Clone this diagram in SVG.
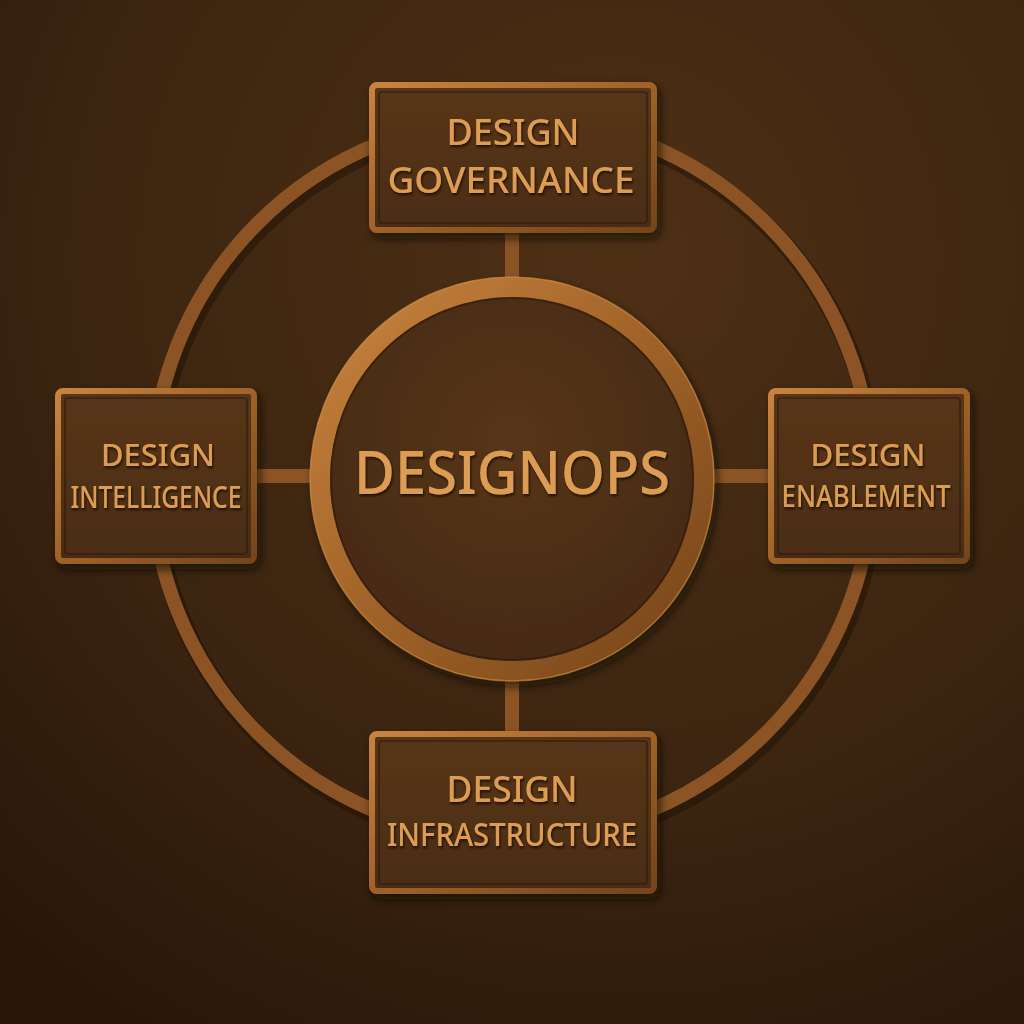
<svg xmlns="http://www.w3.org/2000/svg" width="1024" height="1024" viewBox="0 0 1024 1024">
  <defs>
    <radialGradient id="bg" cx="0.6" cy="0.25" r="0.9">
      <stop offset="0" stop-color="#4e3015"/>
      <stop offset="0.6" stop-color="#3b2410"/>
      <stop offset="1" stop-color="#271608"/>
    </radialGradient>
    <linearGradient id="metal" x1="0" y1="0" x2="1" y2="1">
      <stop offset="0" stop-color="#c8843e"/>
      <stop offset="0.5" stop-color="#a06228"/>
      <stop offset="1" stop-color="#74441a"/>
    </linearGradient>
    <linearGradient id="plate" x1="0" y1="0" x2="0" y2="1">
      <stop offset="0" stop-color="#58361a"/>
      <stop offset="1" stop-color="#4a2c14"/>
    </linearGradient>
    <radialGradient id="disk" cx="0.5" cy="0.4" r="0.6">
      <stop offset="0" stop-color="#56351a"/>
      <stop offset="1" stop-color="#462a14"/>
    </radialGradient>
    <filter id="shadow" x="-20%" y="-20%" width="140%" height="140%">
      <feDropShadow dx="3" dy="5" stdDeviation="5" flood-color="#0e0702" flood-opacity="0.75"/>
    </filter>
    <filter id="tshadow" x="-10%" y="-30%" width="120%" height="160%">
      <feDropShadow dx="1" dy="2" stdDeviation="1.2" flood-color="#160b03" flood-opacity="0.9"/>
    </filter>
  </defs>
  <style>
    .lbl { font-family: "Noto Sans", "Open Sans", sans-serif; font-weight: 500; fill: #dc9c52; text-anchor: middle; filter: url(#tshadow); }
    .box { fill: url(#plate); stroke: url(#metal); stroke-width: 6; filter: url(#shadow); }
    .inner { fill: none; stroke: #2e1a0a; stroke-width: 1.5; opacity: 0.7; }
    .conn { stroke: #8c5424; stroke-width: 14; fill: none; }
  </style>

  <rect width="1024" height="1024" fill="url(#bg)"/>

  <g id="connectors">
    <circle cx="512" cy="478" r="360" fill="none" stroke="#1e1106" stroke-width="18" opacity="0.5" transform="translate(3,5)"/>
    <circle cx="512" cy="478" r="360" class="conn" stroke="url(#metal)"/>
    <line x1="512" y1="232" x2="512" y2="280" class="conn"/>
    <line x1="512" y1="678" x2="512" y2="732" class="conn"/>
    <line x1="256" y1="476" x2="312" y2="476" class="conn"/>
    <line x1="712" y1="476" x2="769" y2="476" class="conn"/>
  </g>

  <g id="center">
    <circle cx="512" cy="479" r="192" fill="url(#disk)" stroke="url(#metal)" stroke-width="20" filter="url(#shadow)"/>
    <circle cx="512" cy="479" r="181" fill="none" stroke="#2e1a0a" stroke-width="2" opacity="0.6"/>
    <circle cx="512" cy="479" r="202" fill="none" stroke="#d8954a" stroke-width="1.5" opacity="0.6"/>
    <text class="lbl" x="512" y="494" font-size="60" textLength="316" lengthAdjust="spacingAndGlyphs">DESIGNOPS</text>
  </g>

  <g id="governance">
    <rect class="box" x="372" y="85" width="282" height="145" rx="5"/>
    <rect class="inner" x="379" y="92" width="268" height="131" rx="3"/>
    <text class="lbl" x="513" y="145" font-size="36" textLength="133" lengthAdjust="spacingAndGlyphs">DESIGN</text>
    <text class="lbl" x="511" y="193" font-size="36" textLength="247" lengthAdjust="spacingAndGlyphs">GOVERNANCE</text>
  </g>

  <g id="intelligence">
    <rect class="box" x="58" y="391" width="196" height="170" rx="5"/>
    <rect class="inner" x="65" y="398" width="182" height="156" rx="3"/>
    <text class="lbl" x="158" y="466" font-size="31" textLength="114" lengthAdjust="spacingAndGlyphs">DESIGN</text>
    <text class="lbl" x="156" y="508" font-size="30" textLength="171" lengthAdjust="spacingAndGlyphs">INTELLIGENCE</text>
  </g>

  <g id="enablement">
    <rect class="box" x="771" y="391" width="196" height="170" rx="5"/>
    <rect class="inner" x="778" y="398" width="182" height="156" rx="3"/>
    <text class="lbl" x="868" y="466" font-size="31" textLength="115" lengthAdjust="spacingAndGlyphs">DESIGN</text>
    <text class="lbl" x="866" y="507" font-size="30" textLength="169" lengthAdjust="spacingAndGlyphs">ENABLEMENT</text>
  </g>

  <g id="infrastructure">
    <rect class="box" x="372" y="734" width="282" height="157" rx="5"/>
    <rect class="inner" x="379" y="741" width="268" height="143" rx="3"/>
    <text class="lbl" x="512" y="802" font-size="36" textLength="131" lengthAdjust="spacingAndGlyphs">DESIGN</text>
    <text class="lbl" x="512" y="846" font-size="33" textLength="250" lengthAdjust="spacingAndGlyphs">INFRASTRUCTURE</text>
  </g>
</svg>
